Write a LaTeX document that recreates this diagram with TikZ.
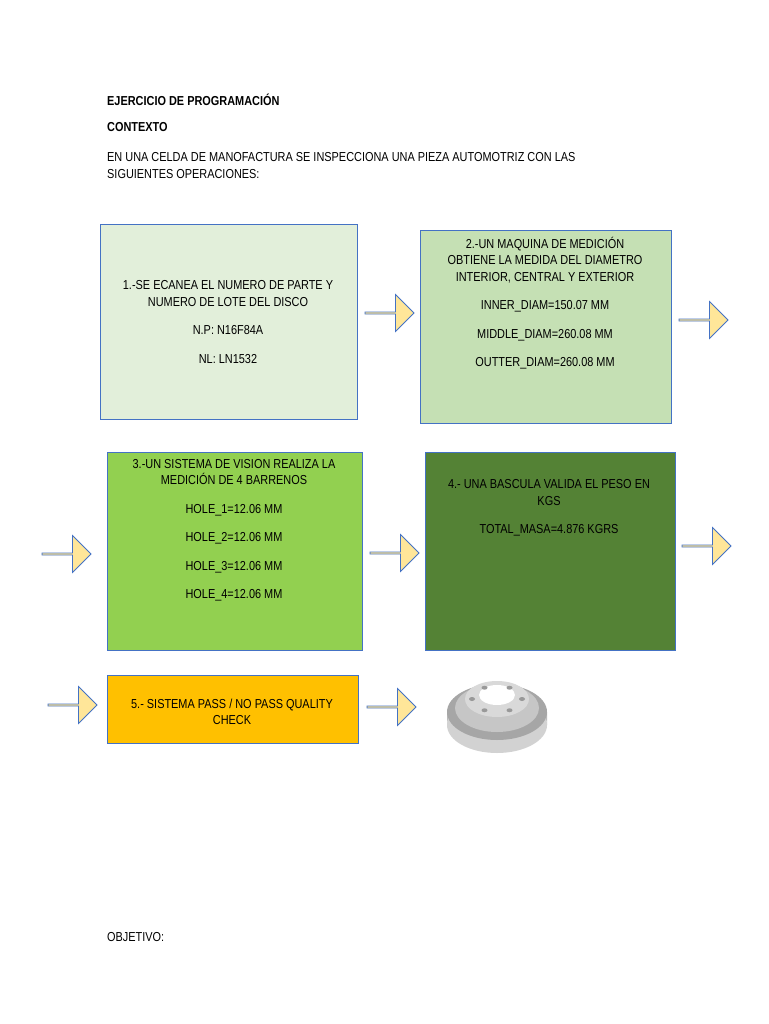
\documentclass[tikz,border=0pt]{standalone}
\usepackage{fontspec}
\setmainfont[FakeStretch=0.84]{Liberation Sans}
\usetikzlibrary{shapes.arrows}
\definecolor{bd}{HTML}{4472C4}
\definecolor{c1}{HTML}{E2EFDA}
\definecolor{c2}{HTML}{C5E0B4}
\definecolor{c3}{HTML}{92D050}
\definecolor{c4}{HTML}{548235}
\definecolor{c5}{HTML}{FFC000}
\definecolor{ar}{HTML}{FFE699}
\tikzset{
 boxs/.style={draw=bd,line width=0.8pt,inner sep=0pt,anchor=north west},
 btxt/.style={align=center,font=\fontsize{13}{16.5}\selectfont,inner sep=0pt},
 blk/.style={single arrow,draw=bd,fill=ar,line width=0.8pt,minimum width=37pt,minimum height=49pt,single arrow head extend=7pt,inner sep=0pt,single arrow tip angle=90},
 hdr/.style={anchor=west,inner sep=0pt,font=\fontsize{13}{16.5}\selectfont}
}
\begin{document}
\begin{tikzpicture}[x=1pt,y=-1pt]
\useasboundingbox (0,0) rectangle (768,1024);
\fill[white] (0,0) rectangle (768,1024);
\node[hdr,font=\fontsize{13}{16}\bfseries\selectfont] (h1) at (107,100) {EJERCICIO DE PROGRAMACIÓN};
\node[hdr,font=\fontsize{13}{16}\bfseries\selectfont] (h2) at (107,127) {CONTEXTO};
\node[hdr] (h3) at (107,157) { EN UNA CELDA DE MANOFACTURA SE INSPECCIONA UNA PIEZA AUTOMOTRIZ CON LAS};
\node[hdr] (h4) at (107,174) {SIGUIENTES OPERACIONES:};
\node[hdr] (obj) at (107,937) {OBJETIVO:};

\node[boxs,fill=c1,minimum width=257pt,minimum height=195pt] (b1) at (100,224) {};
\node[btxt] (t1) at (228,322) {1.-SE ECANEA EL NUMERO DE PARTE Y\\NUMERO DE LOTE DEL DISCO\\[12pt]N.P: N16F84A\\[12pt]NL: LN1532};
\node[boxs,fill=c2,minimum width=251pt,minimum height=193pt] (b2) at (420,230) {};
\node[btxt] (t2) at (545,303) {2.-UN MAQUINA DE MEDICIÓN\\OBTIENE LA MEDIDA DEL DIAMETRO\\INTERIOR, CENTRAL Y EXTERIOR\\[12pt]INNER\_DIAM=150.07 MM\\[12pt]MIDDLE\_DIAM=260.08 MM\\[12pt]OUTTER\_DIAM=260.08 MM};
\node[boxs,fill=c3,minimum width=255pt,minimum height=198pt] (b3) at (107,452) {};
\node[btxt] (t3) at (234,530) {3.-UN SISTEMA DE VISION REALIZA LA\\MEDICIÓN DE 4 BARRENOS\\[12pt]HOLE\_1=12.06 MM\\[12pt]HOLE\_2=12.06 MM\\[12pt]HOLE\_3=12.06 MM\\[12pt]HOLE\_4=12.06 MM};
\node[boxs,fill=c4,minimum width=250pt,minimum height=198pt] (b4) at (425,452) {};
\node[btxt] (t4) at (549,508) {4.- UNA BASCULA VALIDA EL PESO EN\\KGS\\[12pt]TOTAL\_MASA=4.876 KGRS};
\node[boxs,fill=c5,minimum width=251pt,minimum height=68pt] (b5) at (107,675) {};
\node[btxt] (t5) at (232,712) {5.- SISTEMA PASS / NO PASS QUALITY\\CHECK};

\node[blk] (a1) at (389,313) {};
\node[blk] (a2) at (703,320) {};
\node[blk] (a3) at (66,554) {};
\node[blk] (a4) at (394,553) {};
\node[blk] (a5) at (706,546) {};
\node[blk] (a6) at (72,705) {};
\node[blk] (a7) at (391,707) {};

% brake disc
\begin{scope}
\fill[gray!55] (447,712) -- (447,725) arc[start angle=180,end angle=360,x radius=50,y radius=28] -- (547,712) -- cycle;
\fill[gray!35] (497,725) ellipse[x radius=50,y radius=28];
\fill[gray!70] (497,712) ellipse[x radius=50,y radius=28];
\fill[gray!45] (497,708) ellipse[x radius=42,y radius=24];
\fill[gray!30] (497,699) ellipse[x radius=32,y radius=18];
\fill[white] (497,695) ellipse[x radius=18,y radius=10];
\foreach \a in {0,60,...,300}
  \fill[gray!80] ({497+25*cos(\a)},{699+13*sin(\a)}) ellipse[x radius=3,y radius=2];
\end{scope}
\end{tikzpicture}
\end{document}
